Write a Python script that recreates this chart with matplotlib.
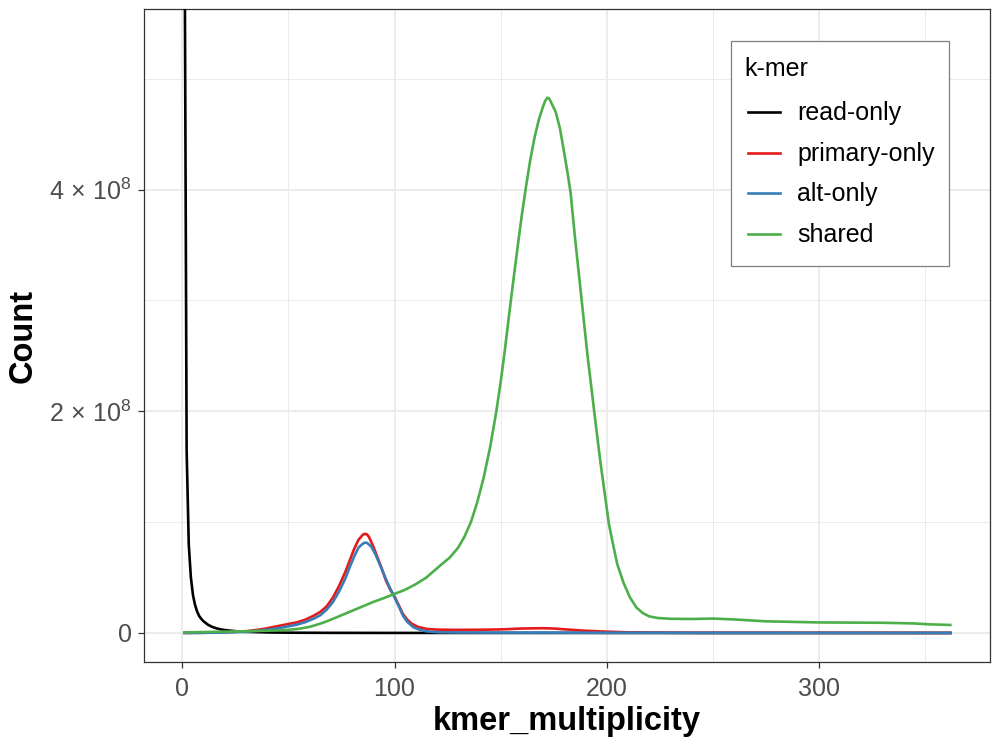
import matplotlib
matplotlib.use("Agg")
import matplotlib.pyplot as plt
from matplotlib.lines import Line2D
from matplotlib.patches import Rectangle
from matplotlib.ticker import FixedLocator

plt.rcParams['font.family'] = ['Liberation Sans', 'DejaVu Sans']
plt.rcParams['mathtext.fontset'] = 'custom'
plt.rcParams['mathtext.rm'] = 'Liberation Sans'
plt.rcParams['mathtext.it'] = 'Liberation Sans:italic'
plt.rcParams['mathtext.bf'] = 'Liberation Sans:bold'

# ---- data (counts in millions) ----
series_names = ["read-only", "primary-only", "alt-only", "shared"]
series_colors = ["#000000", "#E41A1C", "#377EB8", "#4DAF4A"]

read_x = [1, 2, 3, 4, 5, 6, 7, 8, 9, 10, 12, 14, 16, 18, 20, 25, 30, 40, 50, 70, 100, 362]
read_y = [660, 165, 80, 50, 34, 25, 19, 15, 12.5, 10.5, 7.5, 5.5, 4.2, 3.3, 2.6, 1.6, 1.0,
          0.5, 0.25, 0.1, 0.03, 0]

prim_x = [1, 10, 20, 30, 38, 46, 54, 58, 62, 65, 68, 71, 74, 77, 79, 81, 83, 85, 86, 87, 88,
          90, 92, 94, 96, 98, 100, 102, 104, 106, 108, 111, 115, 120, 130, 140, 150, 160, 170,
          175, 180, 190, 200, 210, 220, 240, 362]
prim_y = [0, 0.2, 0.6, 1.5, 3.5, 6.6, 9.6, 12, 15.7, 19, 24, 32, 43, 56, 66, 76, 84, 88.5, 89.5,
          89, 86.5, 78, 68, 58, 47, 39, 33, 25, 17, 12, 8.5, 5.5, 3.7, 3.0, 2.8, 2.9, 3.2, 4.0,
          4.3, 4.0, 3.3, 2.0, 1.2, 0.6, 0.3, 0.1, 0]

alt_x = [1, 10, 20, 30, 38, 46, 54, 58, 62, 65, 68, 71, 74, 77, 79, 81, 83, 85, 86, 87, 89, 91,
         93, 95, 97, 100, 102, 104, 106, 109, 112, 115, 120, 130, 150, 175, 200, 250, 362]
alt_y = [0, 0.1, 0.4, 1.0, 2.4, 4.5, 7.5, 9.8, 13, 16, 21, 28, 38, 50, 60, 69, 77, 80.5, 81.5,
         81.3, 78, 71, 62, 53, 44, 32, 24, 15.5, 10, 5, 2.8, 1.5, 0.7, 0.4, 0.3, 0.3, 0.2, 0.05, 0]

shared_x = [1, 10, 20, 30, 40, 50, 55, 60, 66, 70, 75, 80, 85, 90, 95, 99, 105, 110, 115, 121,
            126, 130, 133, 136, 139, 142, 145, 148, 150, 152, 154, 156, 158, 160, 162, 164,
            166, 168, 170, 171, 172, 173, 174, 176, 178, 180, 182, 183, 185, 187, 189, 191, 193,
            195, 197, 199, 201, 203, 205, 208, 211, 214, 217, 220, 224, 230, 240, 250, 260, 275,
            300, 330, 345, 352, 362]
shared_y = [0.5, 0.8, 1.2, 1.6, 2.0, 2.8, 3.8, 5.5, 9, 12, 16, 20, 24, 28, 31.5, 34.5, 39, 44,
            50, 60, 68, 77, 87, 100, 118, 140, 167, 200, 226, 255, 287, 318, 348, 377, 403, 427,
            447, 463, 475, 480, 483, 482, 478, 470, 455, 433, 410, 397, 358, 322, 286, 250,
            218, 186, 155, 127, 99, 80, 62, 45, 32, 23, 18, 15, 13.5, 12.8, 12.6, 13.0, 12.2,
            10.5, 9.5, 9.2, 8.6, 7.8, 7.2]

xs = [read_x, prim_x, alt_x, shared_x]
ys = [read_y, prim_y, alt_y, shared_y]

x_ticks = [0, 100, 200, 300]
x_minor = [50, 150, 250, 350]
y_ticks = [0, 2e8, 4e8]
y_minor = [1e8, 3e8, 5e8]
y_tick_labels = ["0", r"$2\,\times\,10^{8}$", r"$4\,\times\,10^{8}$"]

W, H = 1000, 748
fig = plt.figure(figsize=(W / 100, H / 100), dpi=100)
ax = fig.add_axes([144 / W, 1 - 662 / H, (990 - 144) / W, (662 - 9) / H])

LW = 1.9
for x, y, c in zip(xs, ys, series_colors):
    ax.plot(x, [v * 1e6 for v in y], color=c, lw=LW, solid_joinstyle='round', zorder=3)

ax.set_xlim(-18.1, 380.7)
ax.set_ylim(-2.62e7, 5.63e8)

ax.xaxis.set_major_locator(FixedLocator(x_ticks))
ax.xaxis.set_minor_locator(FixedLocator(x_minor))
ax.yaxis.set_major_locator(FixedLocator(y_ticks))
ax.yaxis.set_minor_locator(FixedLocator(y_minor))
ax.set_yticklabels(y_tick_labels)
ax.set_xticklabels([str(t) for t in x_ticks])

ax.grid(which='major', color='#EBEBEB', lw=1.3, zorder=0)
ax.grid(which='minor', color='#EBEBEB', lw=0.7, zorder=0)
ax.set_axisbelow(True)

ax.tick_params(which='major', length=4.5, width=0.9, color='#333333', labelcolor='#4D4D4D',
               labelsize=18)
ax.tick_params(axis='x', which='major', pad=6)
ax.tick_params(axis='y', which='major', pad=4)
ax.tick_params(which='minor', length=0)
for s in ax.spines.values():
    s.set_color('#333333')
    s.set_linewidth(0.9)

ax.set_xlabel("kmer_multiplicity", fontsize=23.5, fontweight='bold', labelpad=4)
ax.set_ylabel("Count", fontsize=23.5, fontweight='bold', labelpad=8)

# ---- legend (drawn in figure pixel coordinates) ----
def fx(px):
    return px / W

def fy(py):
    return 1 - py / H

fig.patches.append(Rectangle((fx(731), fy(265.5)), fx(949) - fx(731), fy(41.5) - fy(265.5),
                             transform=fig.transFigure, facecolor='white', edgecolor='#7F7F7F',
                             lw=0.9, zorder=5))
fig.text(fx(744), fy(69), "k-mer", fontsize=18, va='center', ha='left', color='black', zorder=6)
row_y = [112, 153, 193, 234]
for name, c, ry in zip(series_names, series_colors, row_y):
    fig.add_artist(Line2D([fx(748), fx(780)], [fy(ry), fy(ry)], color=c, lw=LW,
                          transform=fig.transFigure, zorder=6))
    fig.text(fx(797), fy(ry + 1), name, fontsize=18, va='center', ha='left', color='black',
             zorder=6)

fig.savefig("out.png", dpi=100)
